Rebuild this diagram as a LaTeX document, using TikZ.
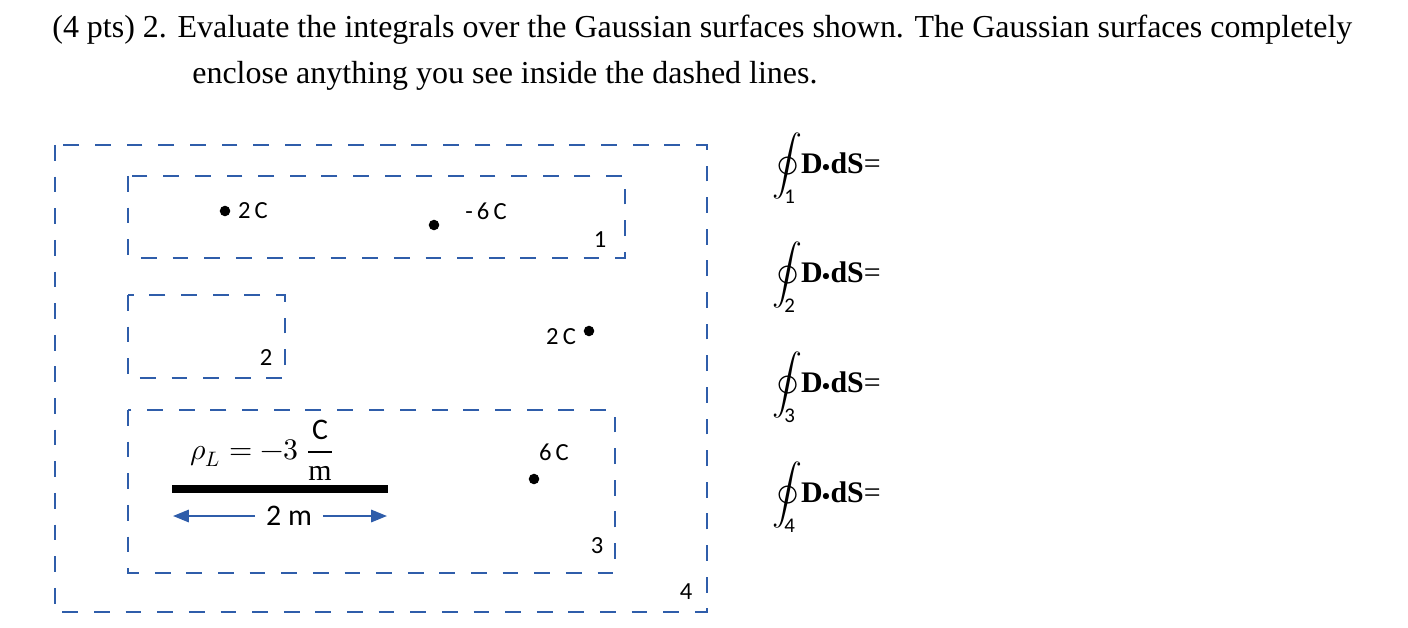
\documentclass[tikz,border=0pt]{standalone}
\usepackage{amsmath}
\usepackage{unicode-math}
\setmainfont{Liberation Serif}
\setmathfont{Latin Modern Math}
\newfontfamily\calfnt{Carlito}
\usetikzlibrary{arrows.meta}
\definecolor{dblue}{HTML}{2F5DAA}
\tikzset{
 gbox/.style={draw=dblue,line width=1.6pt,dash pattern=on 9pt off 9pt},
 lbl/.style={font=\calfnt\fontsize{14}{16}\selectfont,inner sep=1pt},
 chg/.style={circle,fill=black,inner sep=0pt,minimum size=6pt},
 intl/.style={anchor=west,font=\fontsize{17}{20}\selectfont},
 head/.style={anchor=west,font=\fontsize{18.2}{25}\selectfont,inner sep=0pt}
}
\begin{document}
\begin{tikzpicture}[x=0.02cm,y=-0.02cm]
\useasboundingbox (0,0) rectangle (1408,628);
\node[head] (h1) at (52,30) {(4 pts) 2. Evaluate the integrals over the Gaussian surfaces shown. The Gaussian surfaces completely};
\node[head] (h2) at (192,76) {enclose anything you see inside the dashed lines.};
% boxes
\draw[gbox] (55,145) rectangle (707,612);
\draw[gbox] (128,176) rectangle (625,258);
\draw[gbox] (128,295) rectangle (285,378);
\draw[gbox] (128,410) rectangle (615,573);
% labels
\node[lbl] (n1) at (600,240) {1};
\node[lbl] (n2) at (266,358) {2};
\node[lbl] (n3) at (597,546) {3};
\node[lbl] (n4) at (686,592) {4};
% charges
\node[chg] (c1) at (225,211) {};
\node[lbl,anchor=west] (t1) at (236,211) {2\,C};
\node[chg] (c2) at (434,225) {};
\node[lbl] (t2) at (486,211) {-\,6\,C};
\node[chg] (c3) at (589,331) {};
\node[lbl,anchor=east] (t3) at (578,337) {2\,C};
\node[chg] (c4) at (534,479) {};
\node[lbl] (t4) at (554,452) {6\,C};
% line charge
\coordinate (la) at (172,489);
\coordinate (lb) at (388,489);
\draw[line width=5pt] (la) -- (lb);
\node[font=\fontsize{17}{20}\selectfont] (rho) at (262,450) {$\rho_L = -3\ \dfrac{\text{\calfnt C}}{\text{m}}$};
\node[lbl,font=\calfnt\fontsize{17}{20}\selectfont,inner sep=6pt] (len) at (289,516) {2 m};
\coordinate (aa) at (173,516);
\coordinate (ab) at (387,516);
\draw[dblue,line width=1.2pt,-{Stealth[length=9pt,width=7pt,inset=0pt]}] (len.west) -- (aa);
\draw[dblue,line width=1.2pt,-{Stealth[length=9pt,width=7pt,inset=0pt]}] (len.east) -- (ab);
% integrals
\foreach \i/\y in {1/168,2/277,3/387,4/497}{
 \node[intl] (int\i) at (766,\y) {$\displaystyle\oint\nolimits_{\text{\calfnt\i}}$\hspace{3pt}\textbf{D}\raisebox{1pt}{\small$\bullet$}\textbf{dS}=};
}
\end{tikzpicture}
\end{document}
